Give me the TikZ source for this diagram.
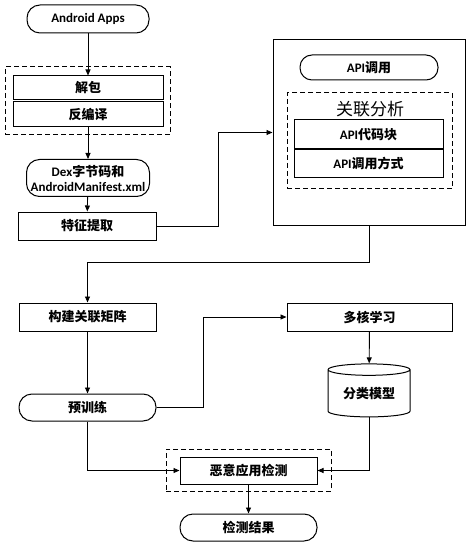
\documentclass[tikz,border=0pt]{standalone}
\usepackage{fontspec}
\setmainfont{Carlito}
\newfontfamily\cjk{Noto Sans CJK SC}
\usetikzlibrary{arrows.meta,shapes.geometric,positioning}

\begin{document}
\begin{tikzpicture}[
    x=1pt,y=-1pt,
    every node/.style={font=\fontsize{13}{15}\selectfont\bfseries},
    box/.style={draw,line width=1pt,inner sep=0pt,
                minimum width=137pt,minimum height=28pt,align=center},
    pill/.style={box,rounded corners=13pt},
    group/.style={draw,dash pattern=on 5pt off 3pt,line width=1pt,inner sep=0pt},
    arr/.style={-{Triangle[length=6pt,width=5pt]},line width=0.9pt},
  ]
  \useasboundingbox (0,0) rectangle (474,545);

  % left column, top
  \node[pill,minimum width=122pt] (apps) at (88,19) {Android Apps};
  \node[group,minimum width=165pt,minimum height=68pt] (unpackgrp) at (87.5,101) {};
  \node[box,minimum width=150pt,minimum height=23.7pt] (unpack) at (88,87.85) {\cjk 解包};
  \node[box,minimum width=150pt,minimum height=25.8pt] (decomp) at (88,114.1) {\cjk 反编译};
  \node[pill,minimum width=123pt,minimum height=37pt,inner sep=0pt] (dex) at (88,178)
    {Dex{\cjk 字节码和}\\AndroidManifest.xml};
  \node[box,minimum width=138pt] (feat) at (87,226) {\cjk 特征提取};

  % API analysis block
  \node[box,minimum width=192pt,minimum height=185pt] (apibox) at (369,132.5) {};
  \node[pill,minimum width=138pt,minimum height=25pt,rounded corners=12pt] (call) at (369,67.5)
    {API\cjk 调用};
  \node[group,minimum width=165pt,minimum height=96pt] (assocgrp) at (369.5,141) {};
  \node[font=\fontsize{17}{19}\selectfont\cjk] (assoc) at (370,109) {关联分析};
  \node[box,minimum width=149pt,minimum height=28.3pt] (code) at (368.5,134.15) {API\cjk 代码块};
  \node[box,minimum width=149pt,minimum height=28.3pt] (mode) at (368.5,163.85) {API\cjk 调用方式};

  % training
  \node[box] (matrix) at (87.5,317) {\cjk 构建关联矩阵};
  \node[box,minimum width=165pt] (mkl) at (369.5,317) {\cjk 多核学习};
  \node[pill,minimum height=27pt] (pre) at (87.5,407.5) {\cjk 预训练};
  \node[draw,line width=1pt,cylinder,shape border rotate=90,aspect=0.22,
        minimum width=82pt,minimum height=53pt,inner sep=0pt] (model) at (369,393.5)
    {\cjk 分类模型};

  % detection
  \node[group,minimum width=165pt,minimum height=42pt] (detectgrp) at (248.5,470) {};
  \node[box,minimum height=27pt] (detect) at (248.5,470.5) {\cjk 恶意应用检测};
  \node[pill,minimum height=27pt] (result) at (248.5,527.5) {\cjk 检测结果};

  % connectors
  \draw[arr] (apps) -- (unpack);
  \draw[arr] (decomp) -- (dex);
  \draw[arr] (dex) -- (feat);
  \draw[arr] (feat.east) -- ++(62,0) |- (apibox.west);
  \draw[arr] (apibox.south) -- ++(0,37) -| (matrix.north);
  \draw[arr] (matrix) -- (pre);
  \draw[arr] (pre.east) -- ++(47,0) |- (mkl.west);
  \draw[arr] (mkl) -- (model);
  \draw[arr] (pre.south) |- (detect.west);
  \draw[arr] (model.south) |- (detect.east);
  \draw[arr] (detect) -- (result);
\end{tikzpicture}
\end{document}
